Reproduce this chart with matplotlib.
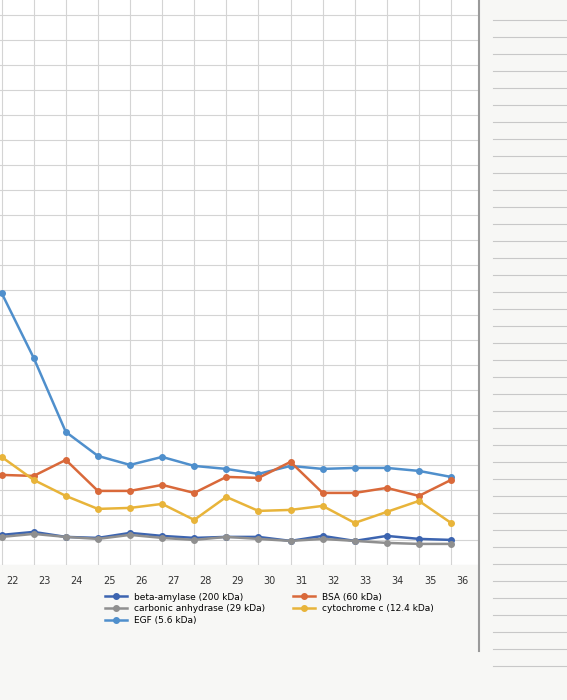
import matplotlib.pyplot as plt
import matplotlib.transforms as mtransforms
from matplotlib.lines import Line2D

# ── Data ───────────────────────────────────────────────────────
fractions = list(range(22, 37))
beta_amylase = [3.0, 3.3, 2.8, 2.7, 3.2, 2.9, 2.7, 2.8, 2.8, 2.4, 2.9, 2.4, 2.9, 2.6, 2.5]
bsa = [9.0, 8.9, 10.5, 7.4, 7.4, 8.0, 7.2, 8.8, 8.7, 10.3, 7.2, 7.2, 7.7, 6.9, 8.5]
carbonic = [2.8, 3.1, 2.8, 2.6, 3.0, 2.7, 2.5, 2.8, 2.6, 2.4, 2.6, 2.4, 2.2, 2.1, 2.1]
cytochrome = [10.8, 8.5, 6.9, 5.6, 5.7, 6.1, 4.5, 6.8, 5.4, 5.5, 5.9, 4.2, 5.3, 6.4, 4.2]
egf = [27.2, 20.7, 13.3, 10.9, 10.0, 10.8, 9.9, 9.6, 9.1, 9.9, 9.6, 9.7, 9.7, 9.4, 8.8]

series = [
    ("beta-amylase (200 kDa)", beta_amylase, "#3c64b0"),
    ("carbonic anhydrase (29 kDa)", carbonic, "#8f8f8f"),
    ("EGF (5.6 kDa)", egf, "#4f8fcc"),
    ("BSA (60 kDa)", bsa, "#d9693a"),
    ("cytochrome c (12.4 kDa)", cytochrome, "#e8b43a"),
]

fig = plt.figure(figsize=(5.67, 7), dpi=100)
fig.patch.set_facecolor("#f7f7f5")

# spreadsheet cells on the right
for y in range(20, 680, 17):
    fig.add_artist(Line2D([0.87, 1.0], [1 - y / 700] * 2, color="#c8c8c8", lw=0.8))
fig.add_artist(Line2D([0.845, 0.845], [0.07, 1.0], color="#9a9a9a", lw=1.5))

ax = fig.add_axes([0.0, 0.193, 0.843, 0.807])
ax.set_facecolor("white")
for name, vals, color in series:
    ax.plot(fractions, vals, "-o", color=color, lw=1.8, ms=4, label=name)

ax.set_xlim(21.95, 36.84)
ax.set_ylim(0, 56.5)
ax.set_xticks(fractions)
ax.set_xticklabels([str(f) for f in fractions], fontsize=7, color="#333333")
ax.tick_params(axis="x", length=0, pad=8)
# labels sit a little right of the points in the photo
shift = mtransforms.ScaledTranslation(8 / 72, 0, fig.dpi_scale_trans)
for lbl in ax.get_xticklabels():
    lbl.set_transform(lbl.get_transform() + shift)
ax.set_yticks([i * 2.5 for i in range(23)])
ax.set_yticklabels([])
ax.tick_params(axis="y", length=0)
ax.grid(True, color="#d4d4d4", lw=0.8)
for s in ax.spines.values():
    s.set_visible(False)

handles, labels = ax.get_legend_handles_labels()
fig.legend(handles, labels, ncol=2, loc="upper left", bbox_to_anchor=(0.17, 0.165),
           frameon=False, fontsize=6.5, handlelength=2.5, columnspacing=3,
           labelspacing=0.3)

fig.savefig("out.png", dpi=100, facecolor=fig.get_facecolor())
